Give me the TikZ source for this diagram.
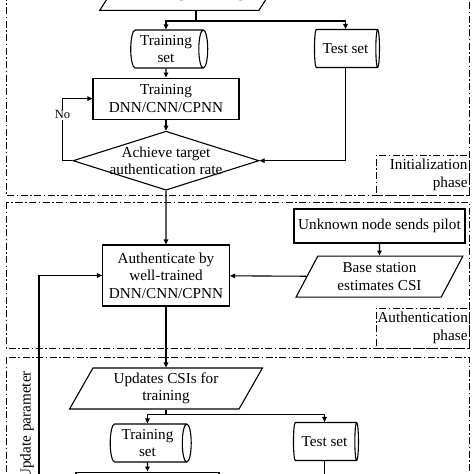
\documentclass[tikz,border=0pt]{standalone}
\usepackage{fontspec}
\setmainfont{Liberation Serif}
\usepackage{xcolor}
\definecolor{cLine}{HTML}{000000}
\usepackage{tikz}
\usetikzlibrary{positioning,arrows.meta,shapes.geometric}
\tikzset{
  node-box/.style={draw=cLine,line width=1.1pt,minimum width=146pt,
    minimum height=41pt,align=center,inner sep=2pt},
  node-io/.style={draw=cLine,line width=1.1pt,trapezium,
    trapezium left angle=63,trapezium right angle=117,
    trapezium stretches=true,align=center,inner sep=1pt},
  node-set/.style={draw=cLine,line width=1.1pt,cylinder,aspect=0.3,
    minimum width=38pt,align=center,inner sep=1pt},
  node-check/.style={draw=cLine,line width=1.1pt,diamond,
    minimum width=186pt,minimum height=59pt,inner sep=0pt},
  phase-dash/.style={dash pattern=on 7pt off 2.5pt on 1.5pt off 2.5pt},
  phase-frame/.style={draw=cLine,line width=0.9pt,phase-dash},
  node-phase/.style={phase-frame,text width=90pt,inner xsep=1.5pt,
    minimum height=40pt,align=right},
  line/.style={draw=cLine,line width=1.1pt},
  arrow/.style={-{Triangle[length=5pt,width=4.5pt]},line width=1.1pt,draw=cLine},
}

\begin{document}
\begin{tikzpicture}[x=1pt,y=-1pt,every node/.style={font=\fontsize{15.2}{17.5}\selectfont}]
  \useasboundingbox (0,0) rectangle (474,474);
  % phase frames
  \draw[phase-frame] (6,-20) rectangle (469,195);
  \draw[phase-frame] (6,202) rectangle (469,348);
  \draw[phase-frame] (6,357) rectangle (469,520);

  % initialization phase
  \node[node-io,minimum width=193pt,text height=30pt,text depth=4pt,
    inner ysep=9pt,anchor=south] (prep) at (196,11) {Data processing};
  \node[node-set,minimum height=77pt] (set1) at (166,49) {Training\\set};
  \node[node-set,minimum height=65pt] (tset1) at (345.5,48.5) {Test set};
  \node[node-box,below=9pt of set1] (train1) {Training\\DNN/CNN/CPNN};
  \node[node-check,below=11pt of train1,
    label={[align=center]center:Achieve target\\authentication rate}] (check1) {};
  \node[node-phase] (initlbl) at (422.5,175) {Initialization\\phase};
  \draw[line] (prep.south) -- ++(0,10) coordinate (fork1);
  \draw[arrow] (fork1) -| (set1.north);
  \draw[arrow] (fork1) -| (tset1.north);
  \draw[arrow] (set1) -- (train1);
  \draw[arrow] (train1) -- (check1);
  \draw[arrow] (check1.west) -- ++(-10,0) |- (train1.west)
    node[pos=0.37,fill=white,inner sep=1pt,font=\fontsize{12.5}{14}\selectfont] {No};
  \draw[arrow] (tset1.south) |- (check1.east);

  % authentication phase
  \node[node-box,minimum width=127pt,minimum height=61pt] (auth) at (166,275.5)
    {Authenticate by\\well-trained\\DNN/CNN/CPNN};
  \node[node-box,minimum width=171pt,minimum height=34pt] (pilot) at (379.5,226)
    {Unknown node sends pilot};
  \node[node-io,minimum width=167pt,minimum height=41pt,below=12pt of pilot] (bs)
    {Base station\\estimates CSI};
  \node[node-phase] (authlbl) at (422.5,328) {Authentication\\phase};
  \coordinate (back) at (39,500);
  \draw[arrow] (check1) -- (auth);
  \draw[arrow] (pilot) -- (bs);
  \draw[arrow] (bs) -- (auth);
  \draw[arrow] (back) |- (auth.west);

  % update phase
  \node[node-io,minimum width=193pt,minimum height=41pt] (upd) at (166,388.5)
    {Updates CSIs for\\training};
  \node[node-set,minimum height=81pt] (set2) at (147.5,443) {Training\\set};
  \node[node-set,minimum height=65pt] (tset2) at (324.5,441.5) {Test set};
  \node[node-box,minimum width=143pt,below=9pt of set2] (train2) {};
  \node[rotate=90,anchor=east,inner sep=0pt] (updlbl) at (27,371) {Update parameter};
  \draw[arrow] (auth) -- (upd);
  \draw[line] (upd.south) -- ++(0,5) coordinate (fork2);
  \draw[arrow] (fork2) -| (set2.north);
  \draw[arrow] (fork2) -| (tset2.north);
  \draw[arrow] (set2) -- (train2);
  \draw[line] (tset2.south) -- ++(0,40);
\end{tikzpicture}
\end{document}
